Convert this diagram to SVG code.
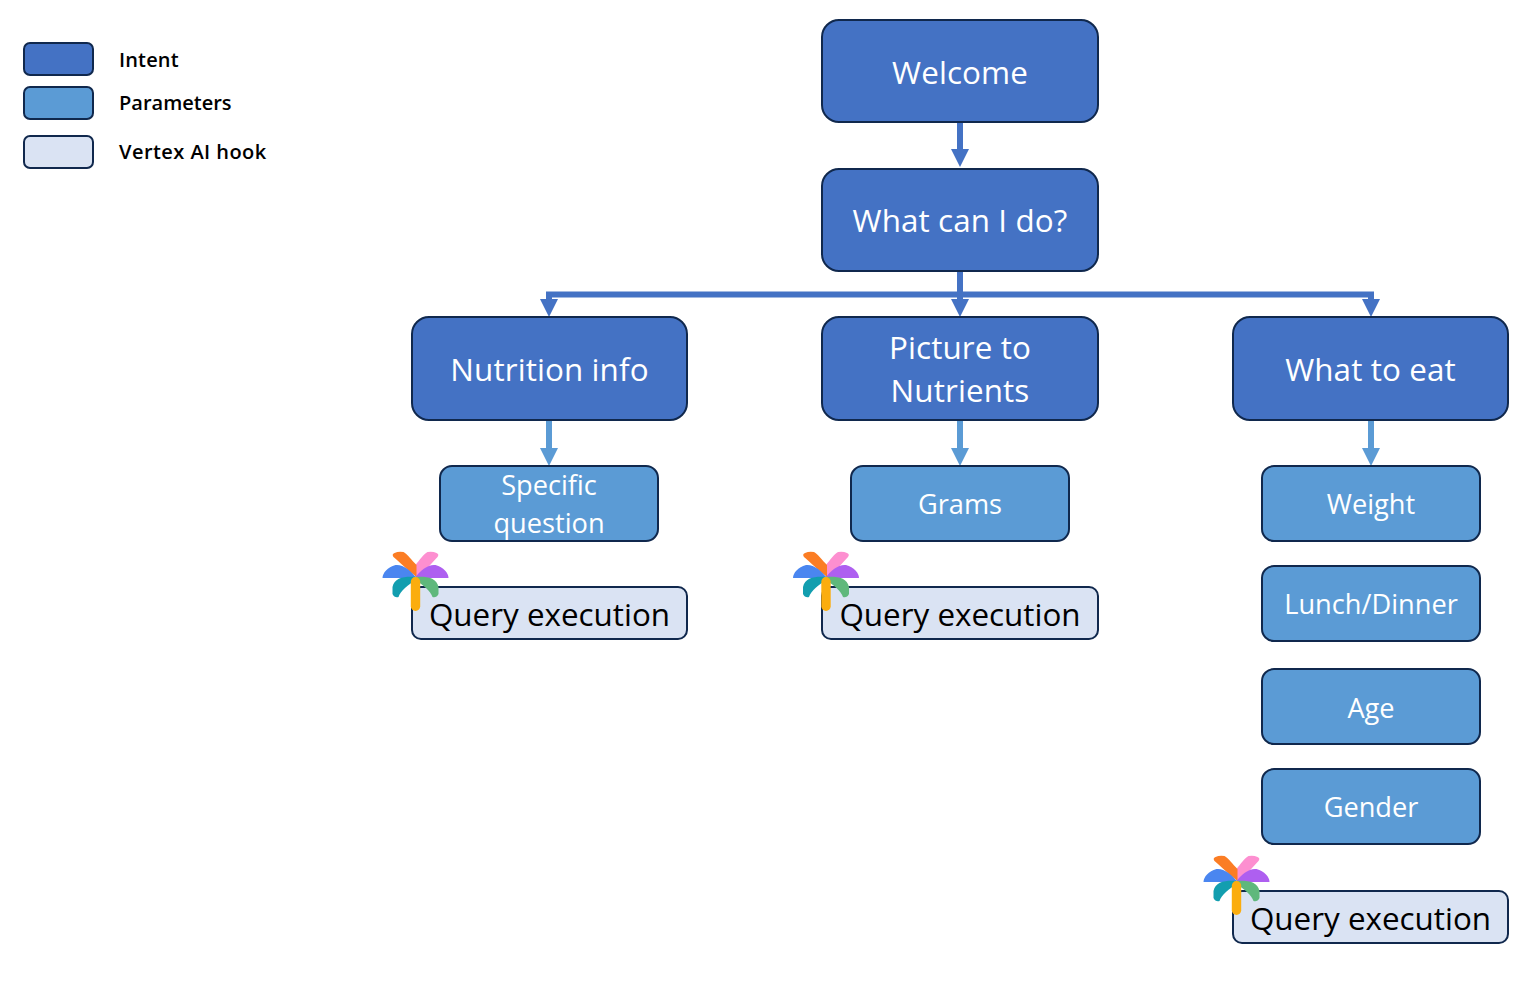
<svg xmlns="http://www.w3.org/2000/svg" width="1538" height="982" viewBox="0 0 1538 982">
<style>
text{font-family:"Open Sans","Noto Sans","Liberation Sans",sans-serif;text-anchor:middle}
.box{stroke:#10284d;stroke-width:2}
.intent{fill:#4472c4}
.param{fill:#5b9bd5}
.hook{fill:#dae3f3}
.t1{fill:#fff;font-size:31.400px;letter-spacing:.1px}
.t2{fill:#fff;font-size:27.200px}
.t3{fill:#000;font-size:31.400px}
.leg{fill:#000;font-size:20px;font-weight:600;text-anchor:start}
.c1{fill:none;stroke:#4472c4;stroke-width:6}
.c2{fill:none;stroke:#5b9bd5;stroke-width:6}
</style>
<defs>
<marker id="a1" markerUnits="userSpaceOnUse" markerWidth="18" markerHeight="18" refX="9" refY="2" viewBox="0 0 18 18"><path d="M0,0H18L9,18Z" fill="#4472c4"/></marker>
<marker id="a2" markerUnits="userSpaceOnUse" markerWidth="18" markerHeight="18" refX="9" refY="2" viewBox="0 0 18 18"><path d="M0,0H18L9,18Z" fill="#5b9bd5"/></marker>
<g id="palm">
<path d="M0,0V-12C4,-17 8,-23 12,-25Q17,-26 21,-24Q24,-23 22,-20L10,-7Z" fill="#fd8fd0"/>
<path d="M1,0V-12C-4,-17-8,-23-12,-25Q-17,-26-21,-24Q-24,-23-22,-20C-16,-15-8,-7 1,0Z" fill="#fb7d24"/>
<path d="M1,1C-5,-7-13,-13-20,-12C-28,-10-33,-4-33,1Z" fill="#4a86f0"/>
<path d="M-1,1C5,-7 13,-13 20,-12C28,-10 33,-4 33,1Z" fill="#ae5ff0"/>
<path d="M2,0C-10,-1-21,0-23,10L-23,17Q-21,21-17,20C-15,14-8,8 2,2Z" fill="#129eaf"/>
<path d="M-2,0C10,-1 21,0 23,10L23,17Q21,21 17,20C15,14 8,8-2,2Z" fill="#5fb87c"/>
<rect x="-4.700" y="0" width="9.400" height="34" rx="4.700" fill="#fbad0e"/>
</g>
</defs>

<g id="connectors" fill="none">
<path class="c1" d="M960,122V151" marker-end="url(#a1)"/>
<path class="c1" d="M960,271V301" marker-end="url(#a1)"/>
<path class="c1" d="M960,294.500H549V301" marker-end="url(#a1)"/>
<path class="c1" d="M960,294.500H1371V301" marker-end="url(#a1)"/>
<path class="c2" d="M549,420V450" marker-end="url(#a2)"/>
<path class="c2" d="M960,420V450" marker-end="url(#a2)"/>
<path class="c2" d="M1371,420V450" marker-end="url(#a2)"/>
</g>

<g id="legend-intent"><rect class="box intent" x="24" y="43" width="69" height="32" rx="6"/><text class="leg" x="119" y="67" letter-spacing=".15">Intent</text></g>
<g id="legend-parameters"><rect class="box param" x="24" y="87" width="69" height="32" rx="6"/><text class="leg" x="119" y="110">Parameters</text></g>
<g id="legend-hook"><rect class="box hook" x="24" y="136" width="69" height="32" rx="6"/><text class="leg" x="119" y="159" letter-spacing=".45">Vertex AI hook</text></g>

<g id="welcome"><rect class="box intent" x="822" y="20" width="276" height="102" rx="17"/><text class="t1" x="960" y="84">Welcome</text></g>
<g id="what-can-i-do"><rect class="box intent" x="822" y="169" width="276" height="102" rx="17"/><text class="t1" x="960" y="232" letter-spacing=".3">What can I do?</text></g>
<g id="nutrition-info"><rect class="box intent" x="412" y="317" width="275" height="103" rx="17"/><text class="t1" x="549.500" y="381">Nutrition info</text></g>
<g id="picture-to-nutrients"><rect class="box intent" x="822" y="317" width="276" height="103" rx="17"/><text class="t1" x="960" y="359">Picture to</text><text class="t1" x="960" y="402">Nutrients</text></g>
<g id="what-to-eat"><rect class="box intent" x="1233" y="317" width="275" height="103" rx="17"/><text class="t1" x="1370.500" y="381">What to eat</text></g>

<g id="specific-question"><rect class="box param" x="440" y="466" width="218" height="75" rx="12"/><text class="t2" x="549" y="495">Specific</text><text class="t2" x="549" y="533">question</text></g>
<g id="grams"><rect class="box param" x="851" y="466" width="218" height="75" rx="12"/><text class="t2" x="960" y="514">Grams</text></g>
<g id="weight"><rect class="box param" x="1262" y="466" width="218" height="75" rx="12"/><text class="t2" x="1371" y="514">Weight</text></g>
<g id="lunch-dinner"><rect class="box param" x="1262" y="566" width="218" height="75" rx="12"/><text class="t2" x="1371" y="614">Lunch/Dinner</text></g>
<g id="age"><rect class="box param" x="1262" y="669" width="218" height="75" rx="12"/><text class="t2" x="1371" y="718">Age</text></g>
<g id="gender"><rect class="box param" x="1262" y="769" width="218" height="75" rx="12"/><text class="t2" x="1371" y="817">Gender</text></g>

<g id="query-1"><rect class="box hook" x="412" y="587" width="275" height="52" rx="9"/><text class="t3" x="549.500" y="626">Query execution</text><use href="#palm" x="415.500" y="577"/></g>
<g id="query-2"><rect class="box hook" x="822" y="587" width="276" height="52" rx="9"/><text class="t3" x="960" y="626">Query execution</text><use href="#palm" x="826" y="577"/></g>
<g id="query-3"><rect class="box hook" x="1233" y="891" width="275" height="52" rx="9"/><text class="t3" x="1370.500" y="930">Query execution</text><use href="#palm" x="1236.500" y="881"/></g>
</svg>
